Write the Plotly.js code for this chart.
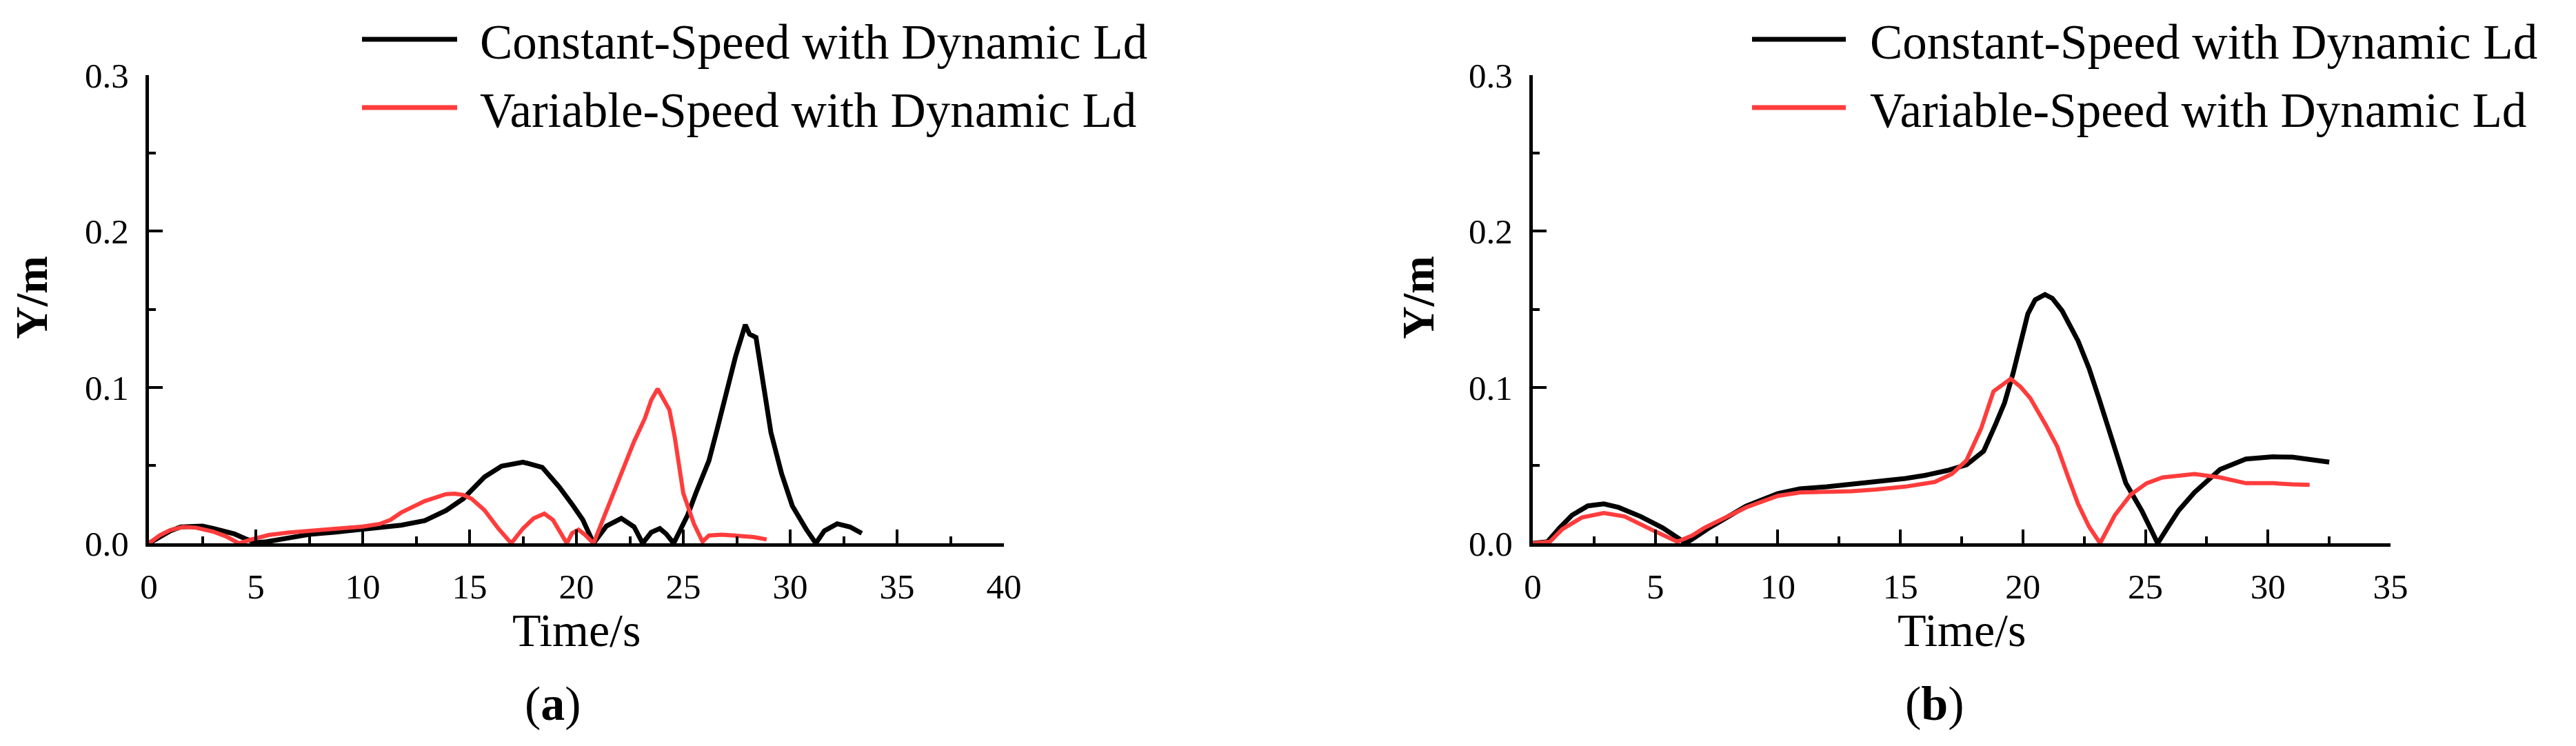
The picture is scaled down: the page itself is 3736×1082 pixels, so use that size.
<!DOCTYPE html>
<html>
<head>
<meta charset="utf-8">
<script src="https://cdn.plot.ly/plotly-3.0.1.min.js"></script>
<style>html,body{margin:0;padding:0;background:#fff;}#chart{width:3736px;height:1082px;}</style>
</head>
<body>
<div id="chart"></div>
<script>
// ---------- data ----------
const seriesNames = ["Constant-Speed with Dynamic Ld", "Variable-Speed with Dynamic Ld"];
const seriesColors = ["#000000", "#ff3c3c"];

// panel (a)
const timeA_const = [0, 0.5, 1.0, 1.5, 2.0, 2.5, 3.0, 3.5, 4.0, 4.5, 5.0, 5.5, 6.5, 7.5, 8.75, 10.0, 11.0, 11.8, 12.9, 13.9, 14.7, 15.2, 15.7, 16.5, 17.5, 18.4, 19.2, 19.85, 20.3, 20.8, 21.4, 22.1, 22.7, 23.1, 23.5, 23.9, 24.2, 24.55, 25.2, 25.6, 26.2, 26.6, 27.05, 27.45, 27.9, 28.1, 28.4, 28.7, 29.1, 29.6, 30.1, 30.75, 31.2, 31.6, 32.2, 32.8, 33.35];
const yA_const    = [0, 0.004, 0.008, 0.0105, 0.011, 0.011, 0.0095, 0.008, 0.006, 0.003, 0.0005, 0.001, 0.003, 0.0057, 0.0072, 0.0087, 0.0100, 0.0116, 0.0145, 0.021, 0.0285, 0.036, 0.0425, 0.0495, 0.052, 0.0487, 0.036, 0.024, 0.015, 0.0, 0.011, 0.016, 0.0105, 0.0, 0.007, 0.0095, 0.006, 0.0, 0.018, 0.0326, 0.053, 0.074, 0.0976, 0.12, 0.14, 0.134, 0.132, 0.105, 0.071, 0.0446, 0.024, 0.009, 0.0, 0.008, 0.0125, 0.0105, 0.0064];
const timeA_var   = [0, 0.5, 1.0, 1.6, 2.2, 3.0, 3.6, 4.2, 4.8, 5.6, 6.5, 7.5, 8.75, 10.0, 10.8, 11.3, 11.8, 12.9, 13.9, 14.3, 14.7, 15.1, 15.7, 16.35, 16.95, 17.5, 18.0, 18.5, 18.9, 19.55, 19.8, 20.1, 20.4, 20.8, 21.5, 22.1, 22.7, 23.2, 23.5, 23.8, 24.05, 24.35, 24.6, 25.0, 25.5, 25.9, 26.2, 26.8, 27.4, 28.3, 28.9];
const yA_var      = [0, 0.005, 0.0085, 0.0105, 0.010, 0.0075, 0.0045, 0.0, 0.0025, 0.0053, 0.0068, 0.0079, 0.0087, 0.0107, 0.0124, 0.015, 0.0197, 0.027, 0.0315, 0.0318, 0.031, 0.0285, 0.0212, 0.0094, 0.0, 0.0095, 0.016, 0.019, 0.015, 0.0, 0.0065, 0.0087, 0.0055, 0.0, 0.0241, 0.0446, 0.0653, 0.08, 0.0918, 0.099, 0.093, 0.0856, 0.068, 0.032, 0.0124, 0.001, 0.005, 0.0055, 0.005, 0.004, 0.0025];

// panel (b)
const timeB_const = [0, 0.6, 1.1, 1.6, 2.25, 2.9, 3.5, 4.4, 5.3, 5.8, 6.25, 7.2, 8.0, 8.7, 10.0, 10.9, 12.0, 13.0, 14.0, 15.2, 16.0, 16.9, 17.7, 18.4, 18.9, 19.25, 19.6, 19.9, 20.2, 20.5, 20.9, 21.2, 21.6, 22.25, 22.7, 23.1, 23.55, 24.2, 24.85, 25.5, 25.9, 26.35, 27.0, 28.05, 29.1, 30.2, 31.0, 31.7, 32.5];
const yB_const    = [0, 0.001, 0.01, 0.018, 0.024, 0.0253, 0.023, 0.0172, 0.0099, 0.005, 0.0, 0.0099, 0.017, 0.0238, 0.0319, 0.0349, 0.0362, 0.0378, 0.039, 0.0415, 0.0435, 0.0466, 0.0503, 0.0591, 0.0768, 0.09, 0.109, 0.1297, 0.147, 0.156, 0.1594, 0.157, 0.149, 0.1297, 0.112, 0.093, 0.0709, 0.0385, 0.0209, 0.0, 0.01, 0.0209, 0.0326, 0.0474, 0.054, 0.0554, 0.0552, 0.054, 0.052];
const timeB_var   = [0, 0.7, 1.2, 2.0, 2.9, 3.75, 4.8, 5.4, 5.9, 6.5, 7.0, 8.7, 10.0, 10.9, 12.0, 13.0, 14.0, 15.2, 16.4, 17.1, 17.7, 18.3, 18.8, 19.15, 19.5, 19.9, 20.3, 20.95, 21.4, 21.8, 22.25, 22.7, 23.15, 23.75, 24.4, 25.05, 25.7, 27.0, 28.05, 29.1, 30.2, 31.0, 31.7];
const yB_var      = [0, 0.001, 0.009, 0.0165, 0.0194, 0.0172, 0.0091, 0.0045, 0.001, 0.005, 0.0099, 0.023, 0.0304, 0.0326, 0.0328, 0.0334, 0.0345, 0.0363, 0.0393, 0.0444, 0.0532, 0.0738, 0.0974, 0.1018, 0.1054, 0.1003, 0.093, 0.0753, 0.062, 0.0444, 0.0253, 0.0106, 0.0, 0.018, 0.0312, 0.0385, 0.0422, 0.0444, 0.0422, 0.0385, 0.0385, 0.0378, 0.0375];

const xTitle = "Time/s";
const yTitle = "Y/m";
const panelLabels = ["a", "b"];
const xRangeA = [0, 40], xRangeB = [0, 35], yRange = [0, 0.3];

// ---------- layout helpers ----------
const W = 3736, H = 1082;
const FONT = "Liberation Serif";
const px = v => v / W;
const py = v => 1 - v / H;

function axis(extra) {
  return Object.assign({
    showline: true, linecolor: "#000", linewidth: 5,
    ticks: "inside", ticklen: 20, tickwidth: 4, tickcolor: "#000",
    showgrid: false, zeroline: false, mirror: false,
    ticklabelstandoff: 14,
    tickfont: {family: FONT, size: 51, color: "#000"},
    fixedrange: true
  }, extra);
}

const traces = [
  {x: timeA_const, y: yA_const, xaxis: "x", yaxis: "y", name: seriesNames[0], line: {color: seriesColors[0], width: 7}},
  {x: timeA_var, y: yA_var, xaxis: "x", yaxis: "y", name: seriesNames[1], line: {color: seriesColors[1], width: 6}},
  {x: timeB_const, y: yB_const, xaxis: "x2", yaxis: "y2", name: seriesNames[0], line: {color: seriesColors[0], width: 7}},
  {x: timeB_var, y: yB_var, xaxis: "x2", yaxis: "y2", name: seriesNames[1], line: {color: seriesColors[1], width: 6}}
].map(t => Object.assign({type: "scatter", mode: "lines", showlegend: false, hoverinfo: "skip"}, t));

const panels = [
  {plotL: 216, plotR: 1456, legLine: [525, 663], legText: 694, yTitleX: 46, labelX: 802},
  {plotL: 2223, plotR: 3467, legLine: [2541, 2677], legText: 2710, yTitleX: 2057, labelX: 2806}
];
const plotTop = 109, plotBot = 788;
const legendRows = [57, 156];

const shapes = [];
const annotations = [];
panels.forEach((p, i) => {
  legendRows.forEach((ry, k) => {
    shapes.push({type: "line", xref: "paper", yref: "paper",
      x0: px(p.legLine[0]), x1: px(p.legLine[1]), y0: py(ry), y1: py(ry),
      line: {color: seriesColors[k], width: 7}});
    annotations.push({xref: "paper", yref: "paper", x: px(p.legText), y: py(ry + 4),
      xanchor: "left", yanchor: "middle", showarrow: false, text: seriesNames[k],
      font: {family: FONT, size: 71, color: "#000"}});
  });
  annotations.push({xref: "paper", yref: "paper", x: px((p.plotL + p.plotR) / 2), y: py(914),
    xanchor: "center", yanchor: "middle", showarrow: false, text: xTitle,
    font: {family: FONT, size: 68, color: "#000"}});
  annotations.push({xref: "paper", yref: "paper", x: px(p.yTitleX), y: py(432),
    xanchor: "center", yanchor: "middle", showarrow: false, textangle: -90,
    text: "<b>" + yTitle + "</b>", font: {family: FONT, size: 66, color: "#000"}});
  annotations.push({xref: "paper", yref: "paper", x: px(p.labelX), y: py(1020),
    xanchor: "center", yanchor: "middle", showarrow: false,
    text: "(<b>" + panelLabels[i] + "</b>)", font: {family: FONT, size: 70, color: "#000"}});
});

const layout = {
  width: W, height: H,
  font: {family: FONT, color: "#000", size: 48},
  margin: {l: 0, r: 0, t: 0, b: 0, pad: 0},
  paper_bgcolor: "#fff", plot_bgcolor: "#fff",
  showlegend: false,
  xaxis: axis({domain: [px(216), px(1456)], range: xRangeA, tick0: 0, dtick: 5, anchor: "y",
    minor: {ticks: "inside", ticklen: 10, tickwidth: 4, tickcolor: "#000", dtick: 2.5, tick0: 0}}),
  yaxis: axis({domain: [py(plotBot), py(plotTop)], range: yRange, tick0: 0, dtick: 0.1, tickformat: ".1f", anchor: "x",
    minor: {ticks: "inside", ticklen: 10, tickwidth: 4, tickcolor: "#000", dtick: 0.05, tick0: 0}}),
  xaxis2: axis({domain: [px(2223), px(3467)], range: xRangeB, tick0: 0, dtick: 5, anchor: "y2",
    minor: {ticks: "inside", ticklen: 10, tickwidth: 4, tickcolor: "#000", dtick: 2.5, tick0: 0}}),
  yaxis2: axis({domain: [py(plotBot), py(plotTop)], range: yRange, tick0: 0, dtick: 0.1, tickformat: ".1f", anchor: "x2",
    minor: {ticks: "inside", ticklen: 10, tickwidth: 4, tickcolor: "#000", dtick: 0.05, tick0: 0}}),
  shapes: shapes,
  annotations: annotations
};

Plotly.newPlot("chart", traces, layout, {staticPlot: true, displayModeBar: false});
</script>
</body>
</html>
